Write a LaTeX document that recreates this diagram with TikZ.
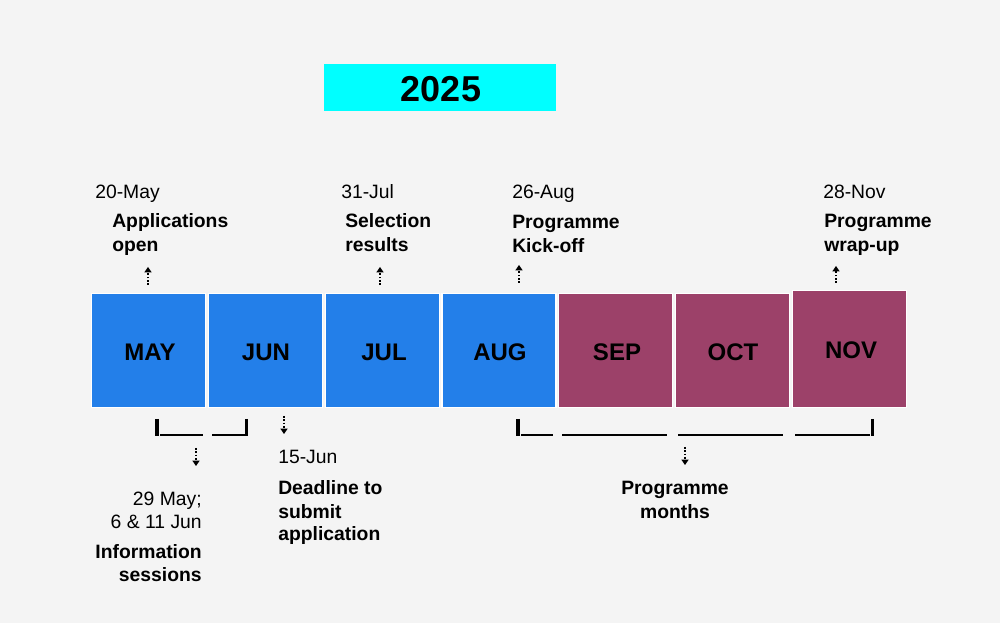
\documentclass[tikz,border=0pt]{standalone}
\usepackage{fontspec}
\setmainfont{Liberation Sans}
\usetikzlibrary{arrows.meta}
\definecolor{bg}{HTML}{F4F4F4}
\definecolor{mblue}{HTML}{237FE9}
\definecolor{mpurple}{HTML}{9C4169}
\definecolor{cyanbox}{HTML}{00FFFF}
\begin{document}
\begin{tikzpicture}[x=0.75pt,y=-0.75pt,
  monthbox/.style={draw=white,line width=1.1pt,minimum width=85.5pt,minimum height=85.5pt,inner sep=0pt},
  monthlbl/.style={inner sep=0pt,font=\fontsize{18}{20}\selectfont\bfseries,text=black},
  datelbl/.style={inner sep=0pt,font=\fontsize{14.5}{17}\selectfont},
  evlbl/.style={inner sep=0pt,font=\fontsize{14.5}{17}\selectfont\bfseries},
  dotarrow/.style={line width=1pt,dash pattern=on 1.3pt off 1.2pt,-{Triangle[width=5.5pt,length=4pt,line width=0pt]}},
  brk/.style={line width=1.6pt},
  brkbar/.style={line width=2.4pt}]
\path[fill=bg] (0,0) rectangle (1000,623);
\useasboundingbox (0,0) rectangle (1000,623);

% year
\node[fill=cyanbox,minimum width=174pt,minimum height=35.25pt,inner sep=0pt] (year) at (440,87.5) {};
\node[inner sep=0pt,anchor=base,font=\fontsize{27}{30}\selectfont\bfseries] (yeartxt) at (441,101.5) {2025};

% months
\node[monthbox,fill=mblue] (may) at (148.5,350.5) {};
\node[monthbox,fill=mblue] (jun) at (265.5,350.5) {};
\node[monthbox,fill=mblue] (jul) at (382.5,350.5) {};
\node[monthbox,fill=mblue] (aug) at (499,350.5) {};
\node[monthbox,fill=mpurple] (sep) at (615.5,350.5) {};
\node[monthbox,fill=mpurple] (oct) at (732.5,350.5) {};
\node[monthbox,fill=mpurple,minimum height=87.75pt] (nov) at (849.5,349) {};
\node[monthlbl,anchor=base] (mayl) at (150,361) {MAY};
\node[monthlbl,anchor=base] (junl) at (266,361) {JUN};
\node[monthlbl,anchor=base] (jull) at (384,361) {JUL};
\node[monthlbl,anchor=base] (augl) at (500,361) {AUG};
\node[monthlbl,anchor=base] (sepl) at (617,361) {SEP};
\node[monthlbl,anchor=base] (octl) at (733,361) {OCT};
\node[monthlbl,anchor=base] (novl) at (851,359) {NOV};

% top labels
\node[datelbl,anchor=base west] (d1) at (95,199) {20-May};
\node[evlbl,anchor=base west] (e1a) at (112,228) {Applications};
\node[evlbl,anchor=base west] (e1b) at (112,252) {open};
\node[datelbl,anchor=base west] (d2) at (341,199) {31-Jul};
\node[evlbl,anchor=base west] (e2a) at (345,228) {Selection};
\node[evlbl,anchor=base west] (e2b) at (345,252) {results};
\node[datelbl,anchor=base west] (d3) at (512,199) {26-Aug};
\node[evlbl,anchor=base west] (e3a) at (512,229) {Programme};
\node[evlbl,anchor=base west] (e3b) at (512,253) {Kick-off};
\node[datelbl,anchor=base west] (d4) at (823,199) {28-Nov};
\node[evlbl,anchor=base west] (e4a) at (824,228) {Programme};
\node[evlbl,anchor=base west] (e4b) at (824,252) {wrap-up};

% up arrows
\coordinate (u1s) at (148,285); \coordinate (u1e) at (148,267);
\coordinate (u2s) at (380,285); \coordinate (u2e) at (380,267);
\coordinate (u3s) at (519,283); \coordinate (u3e) at (519,265);
\coordinate (u4s) at (836,283); \coordinate (u4e) at (836,266);
\draw[dotarrow] (u1s) -- (u1e);
\draw[dotarrow] (u2s) -- (u2e);
\draw[dotarrow] (u3s) -- (u3e);
\draw[dotarrow] (u4s) -- (u4e);

% bracket 1 (info sessions)
\coordinate (b1a) at (157,419); \coordinate (b1b) at (157,436);
\coordinate (b1c) at (160,435); \coordinate (b1d) at (203,435);
\coordinate (b1e) at (212,435); \coordinate (b1f) at (245,435);
\coordinate (b1g) at (246.5,419); \coordinate (b1h) at (246.5,436);
\draw[brkbar] (b1a) -- (b1b);
\draw[brk] (b1c) -- (b1d);
\draw[brk] (b1e) -- (b1f);
\draw[brkbar] (b1g) -- (b1h);

% bracket 2 (programme months)
\coordinate (b2a) at (518,419); \coordinate (b2b) at (518,436);
\coordinate (b2c) at (521,435); \coordinate (b2d) at (553,435);
\coordinate (b2e) at (562,435); \coordinate (b2f) at (667,435);
\coordinate (b2g) at (678,435); \coordinate (b2h) at (783,435);
\coordinate (b2i) at (795,435); \coordinate (b2j) at (870,435);
\coordinate (b2k) at (872.5,419); \coordinate (b2l) at (872.5,436);
\draw[brkbar] (b2a) -- (b2b);
\draw[brk] (b2c) -- (b2d);
\draw[brk] (b2e) -- (b2f);
\draw[brk] (b2g) -- (b2h);
\draw[brk] (b2i) -- (b2j);
\draw[brkbar] (b2k) -- (b2l);

% down arrows
\coordinate (v1s) at (196,448); \coordinate (v1e) at (196,466);
\coordinate (v2s) at (284,416); \coordinate (v2e) at (284,434);
\coordinate (v3s) at (685,447); \coordinate (v3e) at (685,465);
\draw[dotarrow] (v1s) -- (v1e);
\draw[dotarrow] (v2s) -- (v2e);
\draw[dotarrow] (v3s) -- (v3e);

% bottom labels
\node[datelbl,anchor=base east] (d5a) at (202,506) {29 May;};
\node[datelbl,anchor=base east] (d5b) at (202,528) {6 \& 11 Jun};
\node[evlbl,anchor=base east] (e5a) at (202,558) {Information};
\node[evlbl,anchor=base east] (e5b) at (202,581) {sessions};
\node[datelbl,anchor=base west] (d6) at (278,464) {15-Jun};
\node[evlbl,anchor=base west] (e6a) at (278,495) {Deadline to};
\node[evlbl,anchor=base west] (e6b) at (278,518) {submit};
\node[evlbl,anchor=base west] (e6c) at (278,541) {application};
\node[evlbl,anchor=base] (e7a) at (675,494) {Programme};
\node[evlbl,anchor=base] (e7b) at (675,518) {months};
\end{tikzpicture}
\end{document}
